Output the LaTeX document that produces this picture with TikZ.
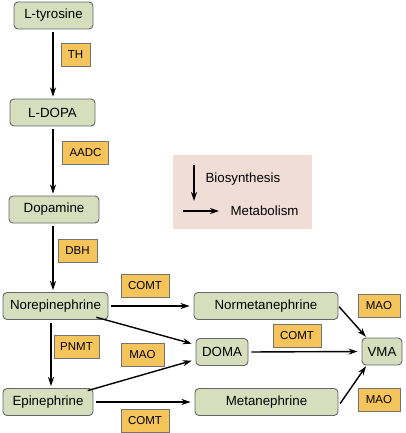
\documentclass[tikz,border=0pt]{standalone}
\usepackage{fontspec}
\setmainfont{Liberation Sans}
\usetikzlibrary{arrows.meta}
\definecolor{cmpfill}{RGB}{215,222,190}
\definecolor{enzfill}{RGB}{245,196,90}
\definecolor{legfill}{RGB}{240,222,214}
\begin{document}
\begin{tikzpicture}[x=1pt,y=-1pt,
    cmp/.style={draw=black!60,fill=cmpfill,rounded corners=4pt,line width=0.9pt,minimum height=27pt,inner sep=0pt,font=\fontsize{13.3}{15}\selectfont},
    enz/.style={draw=black!55,fill=enzfill,line width=0.8pt,minimum height=23pt,inner sep=0pt,font=\fontsize{11.5}{13}\selectfont},
    flow/.style={-{Stealth[length=9pt,width=6pt]},line width=1.4pt}]
      \useasboundingbox (0,0) rectangle (405,433);
      \fill[legfill] (173,155) rectangle (312,229);
      \node[cmp,minimum width=79pt] (tyr) at (53.5,15.5) {L-tyrosine};
      \node[cmp,minimum width=85pt] (dopa) at (52.5,112.5) {L-DOPA};
      \node[cmp,minimum width=90pt] (dopamine) at (54,209.5) {Dopamine};
      \node[cmp,minimum width=105pt] (norepi) at (55.5,306) {Norepinephrine};
      \node[cmp,minimum width=90pt] (epi) at (48,402) {Epinephrine};
      \node[cmp,minimum width=144pt] (normet) at (266,306) {Normetanephrine};
      \node[cmp,minimum width=52pt] (doma) at (222,352) {DOMA};
      \node[cmp,minimum width=40pt] (vma) at (382,351.5) {VMA};
      \node[cmp,minimum width=143pt] (met) at (266.5,402) {Metanephrine};
      \node[enz,minimum width=29pt] (th) at (75.5,54.5) {TH};
      \node[enz,minimum width=46pt] (aadc) at (85.5,152.5) {AADC};
      \node[enz,minimum width=39pt] (dbh) at (77.5,250.5) {DBH};
      \node[enz,minimum width=45pt] (pnmt) at (76.5,347) {PNMT};
      \node[enz,minimum width=48pt] (comta) at (145,285.5) {COMT};
      \node[enz,minimum width=43pt] (maoa) at (142.5,354.5) {MAO};
      \node[enz,minimum width=48pt] (comtb) at (297,336) {COMT};
      \node[enz,minimum width=48pt] (comtc) at (145,421) {COMT};
      \node[enz,minimum width=42pt] (maob) at (379,305.5) {MAO};
      \node[enz,minimum width=42pt] (maoc) at (379,400) {MAO};
      \coordinate (col) at (53,0);
      \draw[flow,shorten <=3pt,shorten >=2pt] (tyr.south -| col) -- (dopa.north -| col);
      \draw[flow,shorten <=3pt,shorten >=2pt] (dopa.south -| col) -- (dopamine.north -| col);
      \draw[flow,shorten <=3pt,shorten >=2pt] (dopamine.south -| col) -- (norepi.north -| col);
      \draw[flow,shorten <=3pt,shorten >=2pt] ([xshift=-4.5pt]norepi.south) -- ([xshift=3pt]epi.north);
      \draw[flow,shorten <=3pt,shorten >=4pt] (norepi.east) -- (normet.west);
      \draw[flow,shorten <=3pt,shorten >=4pt] (epi.east) -- (met.west);
      \draw[flow,shorten <=3pt,shorten >=4pt] (doma.east) -- (vma.west);
      \draw[flow,shorten <=-10pt,shorten >=4pt] (norepi) -- (doma);
      \draw[flow,shorten <=-6pt,shorten >=4pt] (epi) -- (doma);
      \draw[flow,shorten <=1pt,shorten >=1pt] (normet.east) -- ([xshift=5pt]vma.north west);
      \draw[flow,shorten <=3pt,shorten >=1pt] ([yshift=-4pt]met.east) -- ([xshift=5pt]vma.south west);
      \draw[flow] (194,165) -- (194,201);
      \node[anchor=west,font=\fontsize{13.3}{15}\selectfont] (bio) at (202,179) {Biosynthesis};
      \draw[flow] (183,211) -- (219,211);
      \node[anchor=west,font=\fontsize{13.3}{15}\selectfont] (meta) at (227,211) {Metabolism};
    \end{tikzpicture}
\end{document}
